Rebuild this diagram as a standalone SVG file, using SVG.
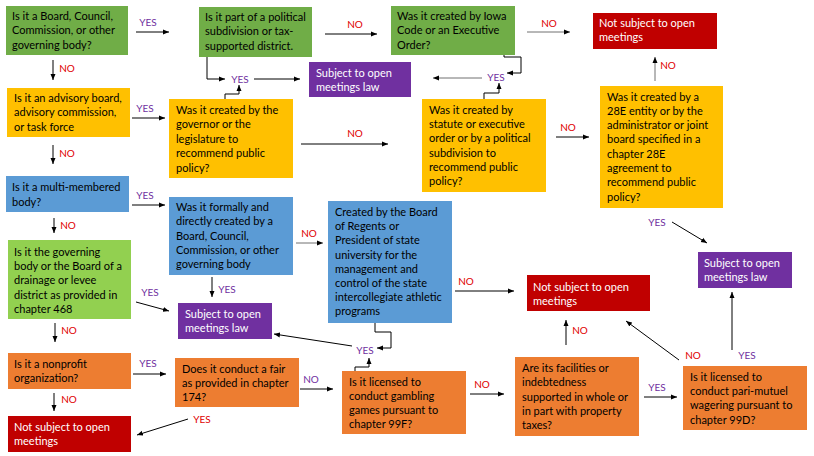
<svg xmlns="http://www.w3.org/2000/svg" width="814" height="456" viewBox="0 0 814 456">
<defs>
<marker id="ah" markerWidth="6" markerHeight="6" refX="6" refY="3" orient="auto" markerUnits="userSpaceOnUse">
<path d="M0,0.5 L6,3 L0,5.5 z" fill="#000"/>
</marker>
<style>
text{font-family:Lato,"Liberation Sans",sans-serif;font-size:11px;fill:#000}
.w{fill:#fff}
.lb{font-size:10px;text-anchor:middle}
.y{fill:#7030A0}
.n{fill:#E00000}
.c{fill:none;stroke:#000;stroke-width:1;marker-end:url(#ah)}
.g{stroke:#707070}
.green{fill:#70AD47}.lgreen{fill:#92D050}.yel{fill:#FFC000}.blue{fill:#5B9BD5}.org{fill:#ED7D31}.red{fill:#C00000}.pur{fill:#7030A0}
</style>
</defs>
<rect width="814" height="456" fill="#fff"/>
<g id="connectors">
<path class="c" d="M136,32 H169"/>
<path class="c" d="M53,60 V80"/>
<path class="c" d="M325,34 H377"/>
<path class="c" d="M207,57 V79 H225"/>
<path class="c" d="M254,79 H300"/>
<path class="c" d="M225,99 V94 H239 V85"/>
<path class="c g" d="M527,32 H570"/>
<path class="c" d="M504,55 V57 H521 V73 H507"/>
<path class="c g" d="M482,78 H433"/>
<path class="c" d="M484,99 V93 H499 V83"/>
<path class="c g" d="M655,81 V57"/>
<path class="c" d="M132,118 H165"/>
<path class="c" d="M53,145 V164"/>
<path class="c" d="M301,144 H388"/>
<path class="c" d="M556,137 H589"/>
<path class="c" d="M672,222 L707,243"/>
<path class="c" d="M132,205 H165"/>
<path class="c" d="M54,218 V233"/>
<path class="c" d="M212,277 V297"/>
<path class="c g" d="M296,243 H323"/>
<path class="c" d="M136,302 L169,311"/>
<path class="c" d="M55,323 V342"/>
<path class="c" d="M455,291 H514"/>
<path class="c" d="M375,323 V332 H391 V348 H377"/>
<path class="c" d="M352,346 L274,334"/>
<path class="c" d="M355,371 V367 H369 V358"/>
<path class="c" d="M133,374 H166"/>
<path class="c" d="M54,393 V411"/>
<path class="c" d="M188,419 L137,435"/>
<path class="c" d="M300,389 H333"/>
<path class="c" d="M470,394 H504"/>
<path class="c" d="M566,345 V320"/>
<path class="c" d="M644,397 H677"/>
<path class="c" d="M679,360 L626,321"/>
<path class="c" d="M732,350 V292"/>
</g>
<g id="labels">
<text class="lb y" x="148" y="25.5">YES</text>
<text class="lb n" x="67" y="71.5">NO</text>
<text class="lb n" x="355" y="27.5">NO</text>
<text class="lb y" x="240" y="82.5">YES</text>
<text class="lb n" x="549" y="26.5">NO</text>
<text class="lb y" x="496" y="80.5">YES</text>
<text class="lb n" x="668" y="68.5">NO</text>
<text class="lb y" x="145" y="111.5">YES</text>
<text class="lb n" x="67" y="156.5">NO</text>
<text class="lb n" x="355" y="136.5">NO</text>
<text class="lb n" x="568" y="130.5">NO</text>
<text class="lb y" x="657" y="225.5">YES</text>
<text class="lb y" x="145" y="198.5">YES</text>
<text class="lb n" x="68" y="228.5">NO</text>
<text class="lb y" x="227" y="292.5">YES</text>
<text class="lb n" x="309" y="236.5">NO</text>
<text class="lb y" x="150" y="295.5">YES</text>
<text class="lb n" x="69" y="333.5">NO</text>
<text class="lb n" x="466" y="284.5">NO</text>
<text class="lb y" x="365" y="353.5">YES</text>
<text class="lb y" x="148" y="366.5">YES</text>
<text class="lb n" x="69" y="402.5">NO</text>
<text class="lb n" x="202" y="422.5">YES</text>
<text class="lb y" x="311" y="382.5">NO</text>
<text class="lb n" x="482" y="387.5">NO</text>
<text class="lb n" x="580" y="333.5">NO</text>
<text class="lb y" x="657" y="390.5">YES</text>
<text class="lb n" x="693" y="358.5">NO</text>
<text class="lb y" x="747" y="358.5">YES</text>
</g>
<g id="n1"><rect class="green" x="6" y="6" width="122" height="49"/>
<text x="12" y="20"><tspan x="12">Is it a Board, Council,</tspan><tspan x="12" dy="14.3">Commission, or other</tspan><tspan x="12" dy="14.3">governing body?</tspan></text></g>
<g id="n2"><rect class="green" x="199" y="7" width="113" height="50"/>
<text x="205" y="21"><tspan x="205">Is it part of a political</tspan><tspan x="205" dy="14.3">subdivision or tax-</tspan><tspan x="205" dy="14.3">supported district.</tspan></text></g>
<g id="n3"><rect class="green" x="391" y="6" width="124" height="49"/>
<text x="397" y="20"><tspan x="397">Was it created by Iowa</tspan><tspan x="397" dy="14.3">Code or an Executive</tspan><tspan x="397" dy="14.3">Order?</tspan></text></g>
<g id="n4"><rect class="red" x="593" y="13" width="124" height="36"/>
<text class="w" x="599" y="27"><tspan x="599">Not subject to open</tspan><tspan x="599" dy="14.3">meetings</tspan></text></g>
<g id="n5"><rect class="pur" x="309" y="62" width="102" height="35"/>
<text class="w" x="316" y="76.5"><tspan x="316">Subject to open</tspan><tspan x="316" dy="14.3">meetings law</tspan></text></g>
<g id="n6"><rect class="yel" x="7" y="88" width="123" height="49"/>
<text x="14" y="102"><tspan x="14">Is it an advisory board,</tspan><tspan x="14" dy="14.3">advisory commission,</tspan><tspan x="14" dy="14.3">or task force</tspan></text></g>
<g id="n7"><rect class="yel" x="169" y="99" width="124" height="79"/>
<text x="176" y="114"><tspan x="176">Was it created by the</tspan><tspan x="176" dy="14.4">governor or the</tspan><tspan x="176" dy="14.4">legislature to</tspan><tspan x="176" dy="14.4">recommend public</tspan><tspan x="176" dy="14.4">policy?</tspan></text></g>
<g id="n8"><rect class="yel" x="422" y="99" width="124" height="93"/>
<text x="429" y="114"><tspan x="429">Was it created by</tspan><tspan x="429" dy="14.2">statute or executive</tspan><tspan x="429" dy="14.2">order or by a political</tspan><tspan x="429" dy="14.2">subdivision to</tspan><tspan x="429" dy="14.2">recommend public</tspan><tspan x="429" dy="14.2">policy?</tspan></text></g>
<g id="n9"><rect class="yel" x="600" y="86" width="123" height="122"/>
<text x="607" y="100.5"><tspan x="607">Was it created by a</tspan><tspan x="607" dy="14.3">28E entity or by the</tspan><tspan x="607" dy="14.3">administrator or joint</tspan><tspan x="607" dy="14.3">board specified in a</tspan><tspan x="607" dy="14.3">chapter 28E</tspan><tspan x="607" dy="14.3">agreement to</tspan><tspan x="607" dy="14.3">recommend public</tspan><tspan x="607" dy="14.3">policy?</tspan></text></g>
<g id="n10"><rect class="blue" x="6" y="176" width="123" height="36"/>
<text x="12" y="191"><tspan x="12">Is it a multi-membered</tspan><tspan x="12" dy="14.5">body?</tspan></text></g>
<g id="n11"><rect class="blue" x="169" y="197" width="124" height="78"/>
<text x="176" y="211"><tspan x="176">Was it formally and</tspan><tspan x="176" dy="14.3">directly created by a</tspan><tspan x="176" dy="14.3">Board, Council,</tspan><tspan x="176" dy="14.3">Commission, or other</tspan><tspan x="176" dy="14.3">governing body</tspan></text></g>
<g id="n12"><rect class="blue" x="328" y="201" width="124" height="122"/>
<text x="335" y="216"><tspan x="335">Created by the Board</tspan><tspan x="335" dy="14.2">of Regents or</tspan><tspan x="335" dy="14.2">President of state</tspan><tspan x="335" dy="14.2">university for  the</tspan><tspan x="335" dy="14.2">management and</tspan><tspan x="335" dy="14.2">control of the state</tspan><tspan x="335" dy="14.2">intercollegiate athletic</tspan><tspan x="335" dy="14.2">programs</tspan></text></g>
<g id="n13"><rect class="lgreen" x="8" y="240" width="123" height="79"/>
<text x="14" y="256"><tspan x="14">Is it the governing</tspan><tspan x="14" dy="14.2">body or the Board of a</tspan><tspan x="14" dy="14.2">drainage or levee</tspan><tspan x="14" dy="14.2">district as provided in</tspan><tspan x="14" dy="14.2">chapter 468</tspan></text></g>
<g id="n14"><rect class="pur" x="178" y="303" width="94" height="36"/>
<text class="w" x="185" y="318"><tspan x="185">Subject to open</tspan><tspan x="185" dy="14">meetings law</tspan></text></g>
<g id="n15"><rect class="red" x="527" y="275" width="123" height="36"/>
<text class="w" x="533" y="290.5"><tspan x="533">Not subject to open</tspan><tspan x="533" dy="14">meetings</tspan></text></g>
<g id="n16"><rect class="pur" x="698" y="252" width="94" height="36"/>
<text class="w" x="704" y="267"><tspan x="704">Subject to open</tspan><tspan x="704" dy="14">meetings law</tspan></text></g>
<g id="n17"><rect class="org" x="8" y="353" width="123" height="36"/>
<text x="14" y="368"><tspan x="14">Is it a nonprofit</tspan><tspan x="14" dy="14">organization?</tspan></text></g>
<g id="n18"><rect class="org" x="175" y="358" width="124" height="49"/>
<text x="182" y="373"><tspan x="182">Does it conduct a fair</tspan><tspan x="182" dy="14.2">as provided in chapter</tspan><tspan x="182" dy="14.2">174?</tspan></text></g>
<g id="n19"><rect class="org" x="342" y="371" width="124" height="63"/>
<text x="349" y="386"><tspan x="349">Is it licensed to</tspan><tspan x="349" dy="14.1">conduct gambling</tspan><tspan x="349" dy="14.1">games pursuant to</tspan><tspan x="349" dy="14.1">chapter 99F?</tspan></text></g>
<g id="n20"><rect class="red" x="8" y="416" width="123" height="36"/>
<text class="w" x="14" y="431"><tspan x="14">Not subject to open</tspan><tspan x="14" dy="14">meetings</tspan></text></g>
<g id="n21"><rect class="org" x="515" y="357" width="124" height="79"/>
<text x="522" y="372"><tspan x="522">Are its facilities or</tspan><tspan x="522" dy="14.3">indebtedness</tspan><tspan x="522" dy="14.3">supported in whole or</tspan><tspan x="522" dy="14.3">in part with property</tspan><tspan x="522" dy="14.3">taxes?</tspan></text></g>
<g id="n22"><rect class="org" x="683" y="366" width="124" height="64"/>
<text x="690" y="381"><tspan x="690">Is it licensed to</tspan><tspan x="690" dy="14.2">conduct pari-mutuel</tspan><tspan x="690" dy="14.2">wagering pursuant to</tspan><tspan x="690" dy="14.2">chapter 99D?</tspan></text></g>
</svg>
